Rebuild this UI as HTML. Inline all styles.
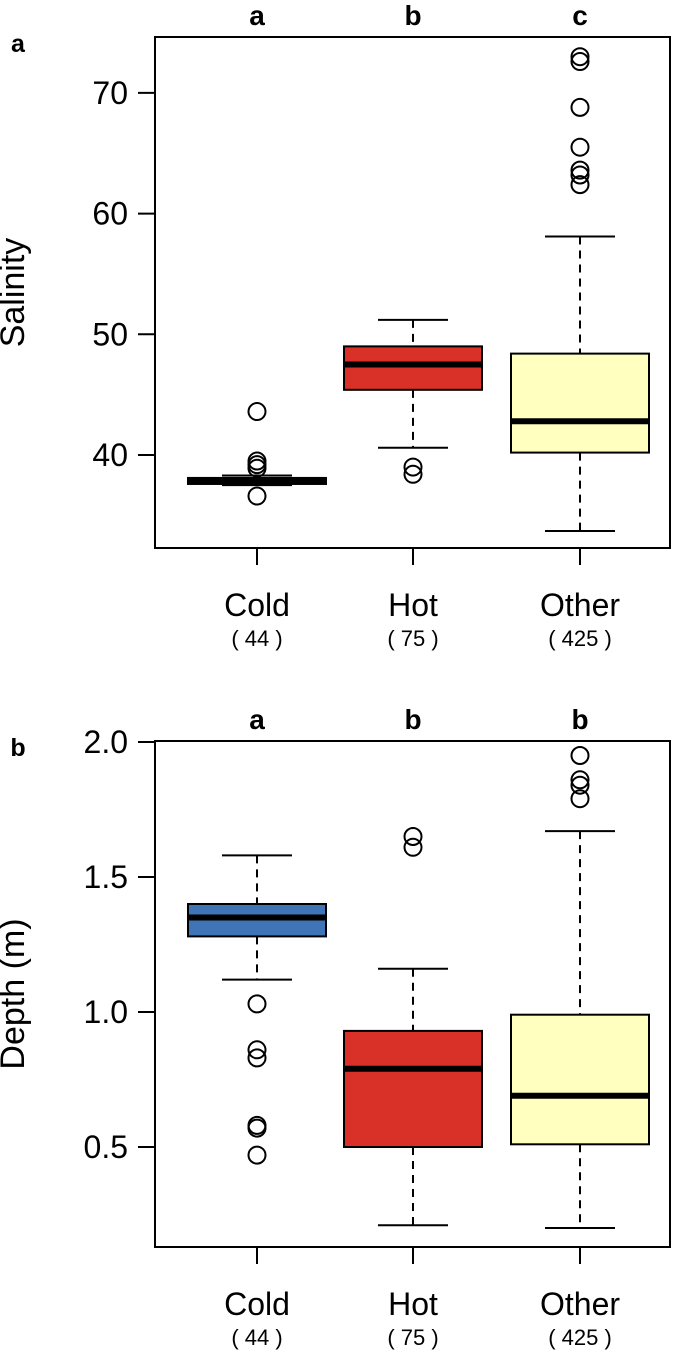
<!DOCTYPE html>
<html><head><meta charset="utf-8"><style>
body{margin:0;background:#fff;width:685px;height:1356px;overflow:hidden}
svg text{font-family:"Liberation Sans",Arial,sans-serif}
</style></head><body>
<svg id="c" width="685" height="1356" xmlns="http://www.w3.org/2000/svg"></svg>
<script>
const groups=["Cold","Hot","Other"];
const counts=["( 44 )","( 75 )","( 425 )"];
const salLetters=["a","b","c"];
const depLetters=["a","b","b"];
// [lowWhisker,Q1,median,Q3,highWhisker]
const salStats=[[37.5,37.6,37.9,38.1,38.3],[40.6,45.4,47.5,49.0,51.2],[33.7,40.2,42.8,48.4,58.1]];
const salOut=[[43.6,39.5,39.2,38.9,36.6],[39.0,38.4],[73.0,72.6,68.8,65.5,63.6,63.2,62.4]];
const salTicks=[40,50,60,70];
const depStats=[[1.12,1.28,1.35,1.40,1.58],[0.21,0.50,0.79,0.93,1.16],[0.20,0.51,0.69,0.99,1.67]];
const depOut=[[1.03,0.86,0.83,0.58,0.57,0.47],[1.65,1.61],[1.95,1.86,1.84,1.79]];
const depTicks=["0.5","1.0","1.5","2.0"];
const colors=[["#fff","#d93127","#ffffc0"],["#3f74b7","#d93127","#ffffc0"]];
const svg=document.getElementById('c');
const NS="http://www.w3.org/2000/svg";
function mk(tag,attrs,name,parent){const e=document.createElementNS(NS,tag);for(const k in attrs)e.setAttribute(k,attrs[k]);


(parent||svg).appendChild(e);return e;}
function txt(x,y,s,size,name,extra){const t=mk('text',Object.assign({x:x,y:y,'font-size':size,'text-anchor':'middle'},extra||{}),name);t.textContent=s;return t;}
const cx=[257,413,580];const hw=69;
function panel(p,top,bottom,yf,stats,outs,ticks,tickLabels,letters,ylabel,plabel,cols){
  const g=mk('g',{},'panel-'+p);
  mk('rect',{x:155,y:top,width:515,height:bottom-top,fill:'none',stroke:'#000','stroke-width':2},'plot-frame',g);
  ticks.forEach((v,i)=>{const y=yf(v);mk('line',{x1:138,x2:155,y1:y,y2:y,stroke:'#000','stroke-width':2},'y-tick',g);
    txt(128,y+11,tickLabels[i],32,'y-tick-label',{'text-anchor':'end'});});
  txt(0,0,ylabel,34,'y-axis-title',{transform:`translate(24,${(top+bottom)/2}) rotate(-90)`});
  txt(18,top+15,plabel,25,'panel-label',{'font-weight':'bold'});
  stats.forEach((s,i)=>{const x=cx[i];
    mk('line',{x1:x,x2:x,y1:bottom,y2:bottom+17,stroke:'#000','stroke-width':2},'x-tick',g);
    txt(x,bottom+68,groups[i],32,'x-label-'+groups[i].toLowerCase());
    txt(x,bottom+98,counts[i],22,'count-'+groups[i].toLowerCase());
    txt(x,top-12,letters[i],28,'group-letter',{'font-weight':'bold'});
    mk('line',{x1:x,x2:x,y1:yf(s[4]),y2:yf(s[3]),stroke:'#000','stroke-width':2,'stroke-dasharray':'8,6'},'whisker-upper',g);
    mk('line',{x1:x,x2:x,y1:yf(s[1]),y2:yf(s[0]),stroke:'#000','stroke-width':2,'stroke-dasharray':'8,6'},'whisker-lower',g);
    mk('line',{x1:x-35,x2:x+35,y1:yf(s[4]),y2:yf(s[4]),stroke:'#000','stroke-width':2},'whisker-cap',g);
    mk('line',{x1:x-35,x2:x+35,y1:yf(s[0]),y2:yf(s[0]),stroke:'#000','stroke-width':2},'whisker-cap',g);
    mk('rect',{x:x-hw,y:yf(s[3]),width:2*hw,height:Math.max(1,yf(s[1])-yf(s[3])),fill:cols[i],stroke:'#000','stroke-width':2},'box-'+groups[i].toLowerCase(),g);
    mk('line',{x1:x-hw,x2:x+hw,y1:yf(s[2]),y2:yf(s[2]),stroke:'#000','stroke-width':6},'median',g);
    outs[i].forEach(v=>mk('circle',{cx:x,cy:yf(v),r:8.5,fill:'none',stroke:'#000','stroke-width':2},'outlier',g));
  });
}
panel('a',37,548,v=>455-(v-40)*12.07,salStats,salOut,salTicks,salTicks.map(String),salLetters,'Salinity','a',colors[0]);
panel('b',741,1247,v=>1147-(v-0.5)*270,depStats,depOut,depTicks.map(Number),depTicks,depLetters,'Depth (m)','b',colors[1]);
</script>
</body></html>
